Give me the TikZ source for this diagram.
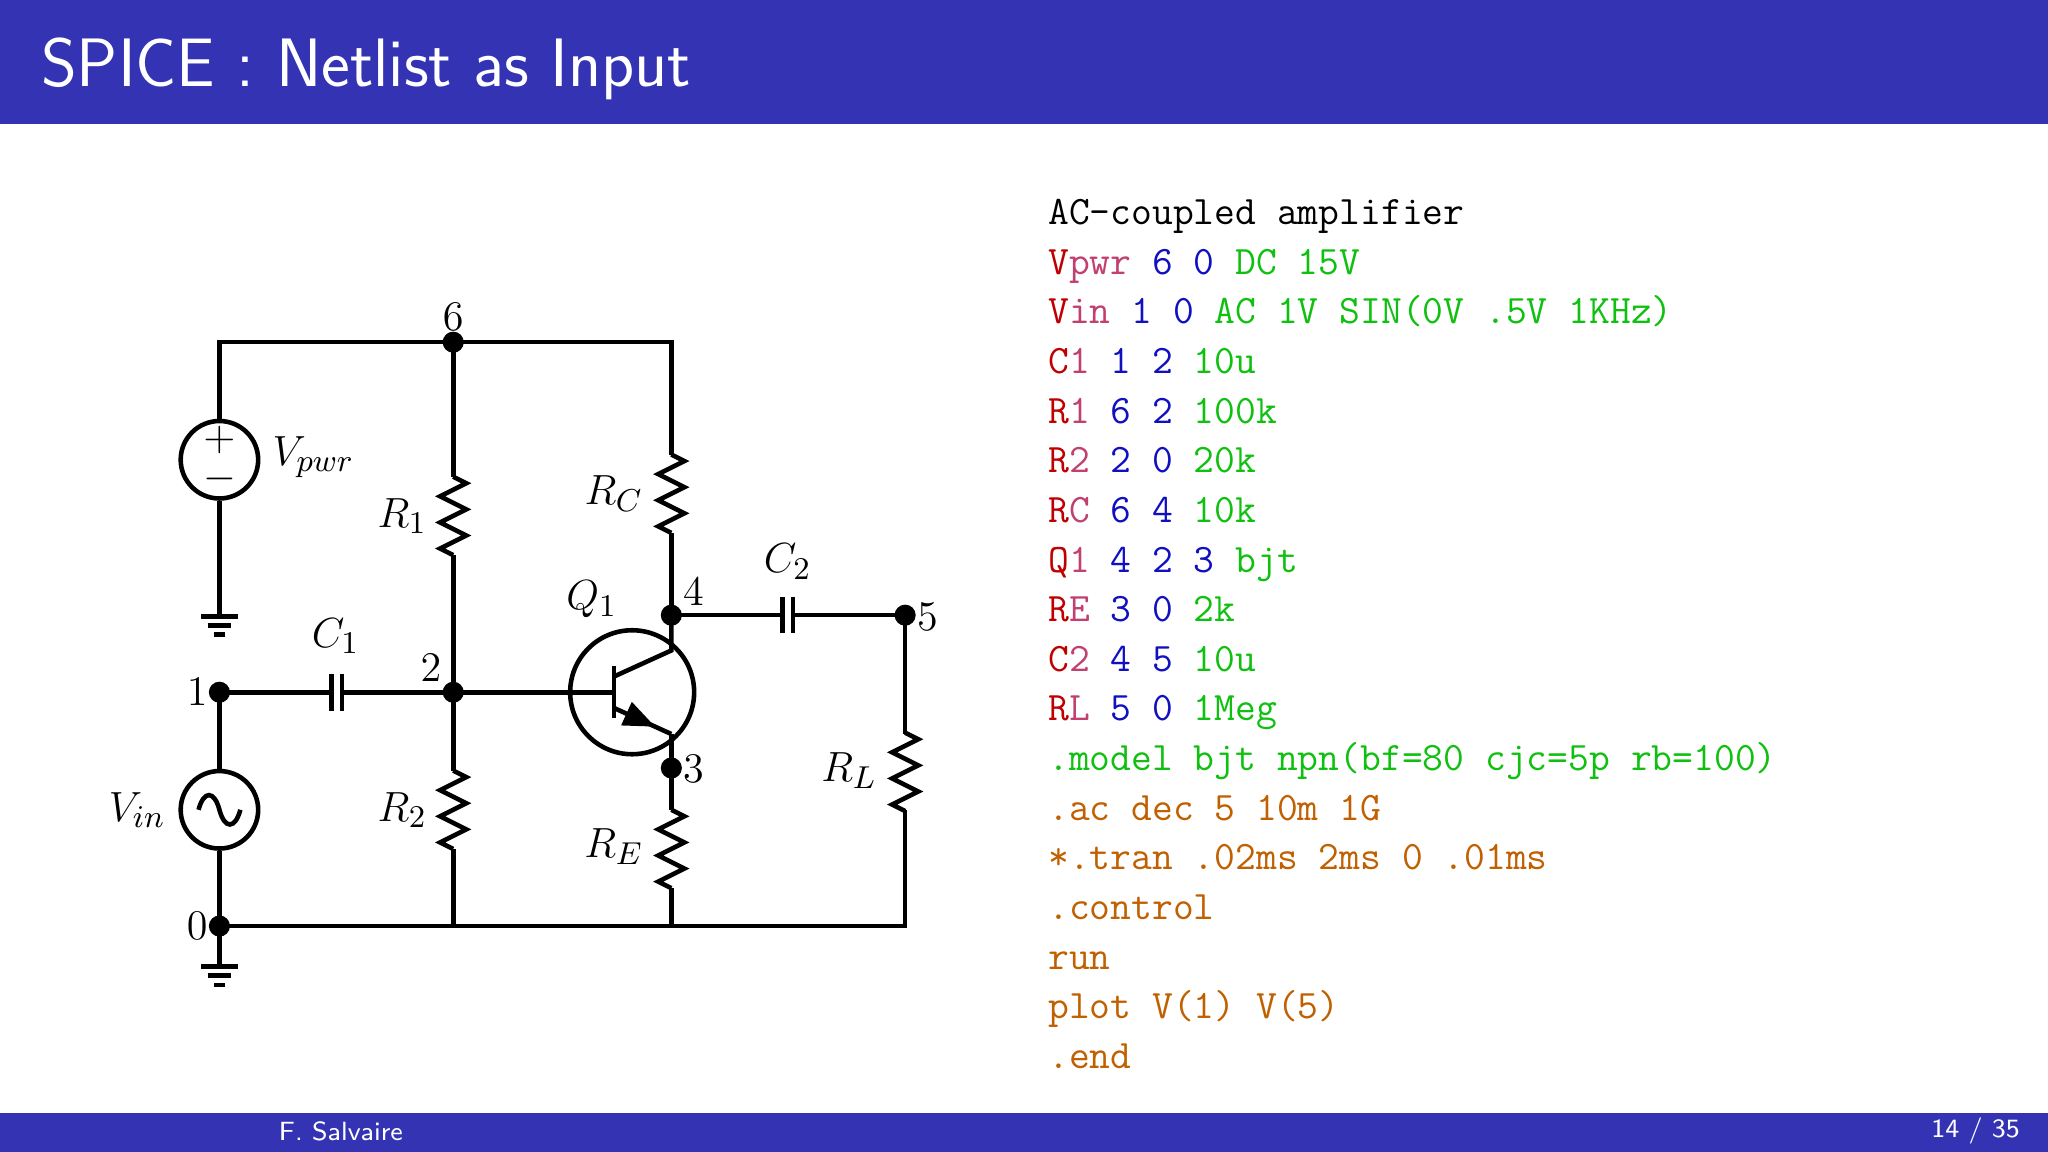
\documentclass[tikz,border=0pt]{standalone}
\usepackage{fontspec}
\usepackage{tikz}
\usetikzlibrary{arrows.meta,decorations.markings}
\definecolor{barblue}{HTML}{3333B3}
\definecolor{kred}{HTML}{C00000}
\definecolor{kpink}{HTML}{C04070}
\definecolor{kblue}{HTML}{1010C0}
\definecolor{kgreen}{HTML}{10C010}
\definecolor{korange}{HTML}{C06000}
\newcommand{\cname}[2]{\textcolor{kred}{#1}\textcolor{kpink}{#2}}
\newcommand{\cnodes}[1]{\textcolor{kblue}{#1}}
\newcommand{\cval}[1]{\textcolor{kgreen}{#1}}
\tikzset{
  wire/.style={line width=1.3pt},
  dot/.style={circle, fill, inner sep=0pt, minimum size=6pt},
  lbl/.style={font=\fontsize{13}{15}\selectfont},
  code/.style={anchor=base west, inner sep=0pt, font=\ttfamily\fontsize{11.5}{13}\selectfont},
  pics/vres/.style={code={\draw[wire] (0,-30) -- (10,-25) -- (-10,-15) -- (10,-5) -- (-10,5) -- (10,15) -- (-10,25) -- (0,30);}},
  pics/hcap/.style={code={\draw[wire] (-4,-14) -- (-4,14) (4,-14) -- (4,14);}},
  pics/gnd/.style={code={\draw[wire] (-14,2) -- (14,2) (-9,9) -- (9,9) (-4,16) -- (4,16);}}
}
\begin{document}
\begin{tikzpicture}[x=0.013061cm, y=-0.013061cm]
    \useasboundingbox (0,0) rectangle (1568,882);
    % Bars
    \fill[barblue] (0,0) rectangle (1568,95);
    \fill[barblue] (0,852) rectangle (1568,882);
    \node[anchor=west, text=white, font=\sffamily\fontsize{19.5}{22}\selectfont] (title) at (22,53) {SPICE : Netlist as Input};
    \node[text=white, font=\sffamily\fontsize{7.5}{9}\selectfont] (author) at (261,866) {F. Salvaire};
    \node[anchor=east, text=white, font=\sffamily\fontsize{7.5}{9}\selectfont] (page) at (1556,866) {14 / 35};

    % Junctions
    \coordinate (tl) at (168,262);
    \coordinate (n6) at (347,262);
    \coordinate (tr) at (514,262);
    \coordinate (n1) at (168,530);
    \coordinate (n2) at (347,530);
    \coordinate (n0) at (168,709);
    \coordinate (b2) at (347,709);
    \coordinate (bE) at (514,709);
    \coordinate (bL) at (693,709);
    \coordinate (n4) at (514,471);
    \coordinate (n3) at (514,588);
    \coordinate (n5) at (693,471);
    \coordinate (gp) at (168,470);
    \coordinate (g0) at (168,738);

    % Sources
    \node[draw, circle, line width=1.3pt, minimum size=60pt*0.3675, inner sep=0pt] (vpwr) at (168,352) {};
    \node[font=\fontsize{12}{12}\selectfont] at (168,337) {$+$};
    \node[font=\fontsize{12}{12}\selectfont] at (168,367) {$-$};
    \node[draw, circle, line width=1.3pt, minimum size=60pt*0.3675, inner sep=0pt] (vin) at (168,620) {};
    \draw[wire] (152,620) .. controls (156,605) and (164,605) .. (168,620) .. controls (172,635) and (180,635) .. (184,620);

    % Transistor
    \node[draw, circle, line width=1.3pt, minimum size=96pt*0.3675, inner sep=0pt] (q1) at (484,530) {};
    \draw[wire] (470,510) -- (470,550);
    \draw[wire] (470,518) -- (514,498) -- (n4);
    \draw[wire, decoration={markings, mark=at position 0.72 with {\arrow{Triangle[length=9pt,width=7pt]}}}, postaction={decorate}] (470,542) -- (514,562);
    \draw[wire] (514,562) -- (n3);

    % Wires
    \draw[wire] (vpwr) -- (tl) -- (n6) -- (tr) -- (514,348);
    \draw[wire] (vpwr) -- (gp);
    \draw[wire] (n6) -- (347,365) (347,425) -- (n2) -- (347,590) (347,650) -- (b2);
    \draw[wire] (n1) -- (254,530) (262,530) -- (n2) -- (470,530);
    \draw[wire] (n1) -- (vin) -- (n0) -- (b2) -- (bE) -- (bL) -- (693,620) (693,562) -- (n5) -- (607,471) (599,471) -- (n4);
    \draw[wire] (514,408) -- (n4);
    \draw[wire] (n3) -- (514,620) (514,680) -- (bE);
    \draw[wire] (n0) -- (g0);

    % Components
    \pic at (347,395) {vres};
    \pic at (347,620) {vres};
    \pic at (514,378) {vres};
    \pic at (514,650) {vres};
    \pic at (693,591) {vres};
    \pic at (258,530) {hcap};
    \pic at (603,471) {hcap};
    \pic at (gp) {gnd};
    \pic at (g0) {gnd};

    % Dots
    \foreach \p in {n6,n1,n2,n0,n4,n3,n5} \node[dot] at (\p) {};

    % Labels
    \node[lbl] at (347,243) {$6$};
    \node[lbl] at (151,530) {$1$};
    \node[lbl] at (330,511) {$2$};
    \node[lbl] at (531,453) {$4$};
    \node[lbl] at (531,589) {$3$};
    \node[lbl] at (710,472) {$5$};
    \node[lbl] at (151,709) {$0$};
    \node[lbl] at (308,395) {$R_1$};
    \node[lbl] at (308,620) {$R_2$};
    \node[lbl] at (470,378) {$R_C$};
    \node[lbl] at (470,648) {$R_E$};
    \node[lbl] at (650,590) {$R_L$};
    \node[lbl] at (257,487) {$C_1$};
    \node[lbl] at (603,430) {$C_2$};
    \node[lbl] at (453,459) {$Q_1$};
    \node[lbl] at (240,350) {$V_{pwr}$};
    \node[lbl] at (105,620) {$V_{in}$};

    % Netlist
    \node[code] (l0) at (802,172) {AC-coupled amplifier};
    \node[code] (l1) at (802,210) {\cname{V}{pwr} \cnodes{6 0} \cval{DC 15V}};
    \node[code] (l2) at (802,248) {\cname{V}{in} \cnodes{1 0} \cval{AC 1V SIN(0V .5V 1KHz)}};
    \node[code] (l3) at (802,286) {\cname{C}{1} \cnodes{1 2} \cval{10u}};
    \node[code] (l4) at (802,324) {\cname{R}{1} \cnodes{6 2} \cval{100k}};
    \node[code] (l5) at (802,362) {\cname{R}{2} \cnodes{2 0} \cval{20k}};
    \node[code] (l6) at (802,400) {\cname{R}{C} \cnodes{6 4} \cval{10k}};
    \node[code] (l7) at (802,438) {\cname{Q}{1} \cnodes{4 2 3} \cval{bjt}};
    \node[code] (l8) at (802,476) {\cname{R}{E} \cnodes{3 0} \cval{2k}};
    \node[code] (l9) at (802,514) {\cname{C}{2} \cnodes{4 5} \cval{10u}};
    \node[code] (l10) at (802,552) {\cname{R}{L} \cnodes{5 0} \cval{1Meg}};
    \node[code, text=kgreen] (l11) at (802,590) {.model bjt npn(bf=80 cjc=5p rb=100)};
    \node[code, text=korange] (l12) at (802,628) {.ac dec 5 10m 1G};
    \node[code, text=korange] (l13) at (802,666) {*.tran .02ms 2ms 0 .01ms};
    \node[code, text=korange] (l14) at (802,704) {.control};
    \node[code, text=korange] (l15) at (802,742) {run};
    \node[code, text=korange] (l16) at (802,780) {plot V(1) V(5)};
    \node[code, text=korange] (l17) at (802,818) {.end};
\end{tikzpicture}
\end{document}
